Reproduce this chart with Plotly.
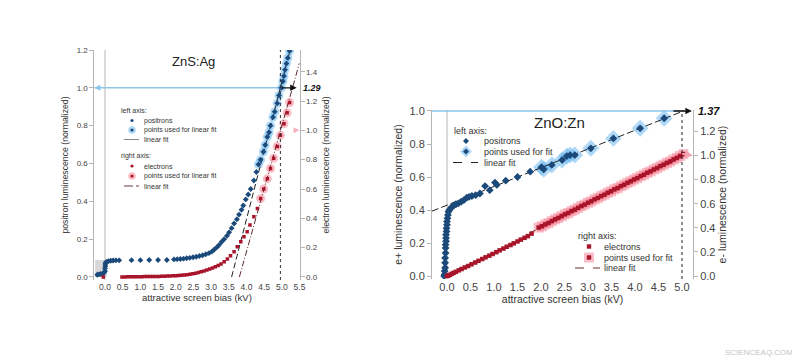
import plotly.graph_objects as go

# browser page has an 8px body margin: the figure is shrunk and positions are compensated
OFF = 8
W, H = 800 - OFF, 361 - OFF
FONT = "Liberation Sans"

# ---------------- ZnS:Ag panel (left) ----------------
zns_pos_x = [-0.22, -0.17, -0.12, -0.07, -0.03, 0.00, 0.00, 0.01, 0.01, 0.02, 0.05, 0.10, 0.16, 0.23, 0.31, 0.40,
             0.75, 1.00, 1.25, 1.50, 1.75,
             1.95, 2.04, 2.13, 2.22, 2.31, 2.40, 2.49, 2.58, 2.67, 2.76, 2.85, 2.94, 3.02, 3.09, 3.17, 3.23,
             3.30, 3.37, 3.45, 3.51, 3.58, 3.65, 3.73, 3.79, 3.86, 3.91, 3.98, 4.05, 4.12, 4.21, 4.28, 4.34,
             4.40, 4.48, 4.53, 4.59, 4.64, 4.68, 4.75, 4.80, 4.87, 4.92, 4.99, 5.03, 5.06, 5.09, 5.13, 5.17, 5.22]
zns_pos_y = [0.012, 0.014, 0.016, 0.018, 0.022, 0.030, 0.045, 0.057, 0.068, 0.076, 0.081, 0.084, 0.086, 0.087, 0.088, 0.088,
             0.089, 0.089, 0.090, 0.090, 0.090,
             0.093, 0.094, 0.095, 0.097, 0.099, 0.101, 0.104, 0.107, 0.111, 0.115, 0.120, 0.126, 0.134, 0.145, 0.158, 0.170,
             0.186, 0.200, 0.218, 0.236, 0.258, 0.283, 0.305, 0.330, 0.355, 0.378, 0.410, 0.436, 0.465, 0.510, 0.555, 0.595,
             0.620, 0.662, 0.698, 0.740, 0.765, 0.800, 0.845, 0.874, 0.918, 0.960, 1.000, 1.035, 1.062, 1.095, 1.128, 1.158, 1.195]
zns_pos_fit_min = 4.30

zns_ele_x = [-0.05,
             0.48, 0.56, 0.64, 0.72, 0.80, 0.88, 0.96, 1.04, 1.12, 1.20, 1.28, 1.36, 1.44, 1.52, 1.60, 1.68, 1.76, 1.84,
             1.92, 2.00, 2.08, 2.16, 2.24, 2.32, 2.40, 2.48, 2.56, 2.64, 2.72, 2.80, 2.88, 2.96, 3.04, 3.12, 3.20, 3.28,
             3.37, 3.46, 3.55, 3.65, 3.74, 3.84, 3.93, 4.02, 4.10, 4.21, 4.31, 4.40, 4.49, 4.59, 4.68, 4.77, 4.87, 4.96,
             5.06, 5.15, 5.22]
zns_ele_y = [0.0,
             0.000, 0.000, 0.001, 0.001, 0.001, 0.002, 0.002, 0.002, 0.003, 0.003, 0.003, 0.004, 0.004, 0.004, 0.005, 0.005, 0.006, 0.007,
             0.008, 0.009, 0.010, 0.012, 0.014, 0.016, 0.019, 0.022, 0.026, 0.030, 0.035, 0.041, 0.048, 0.055, 0.062, 0.070, 0.078, 0.088,
             0.104, 0.122, 0.145, 0.172, 0.206, 0.240, 0.274, 0.308, 0.354, 0.410, 0.467, 0.535, 0.600, 0.670, 0.740, 0.810, 0.890, 0.966,
             1.045, 1.120, 1.190]
zns_ele_fit_min = 4.40

zns_pos_line_x = [3.58, 5.235]
zns_pos_line_y = [0.0, 1.2]
zns_ele_line_x = [3.80, 5.50]
zns_ele_line_y = [0.0, 1.46]
zns_mark_x = 4.96
zns_label = "1.29"

# ---------------- ZnO:Zn panel (right) ----------------
zno_pos_x = [-0.06, -0.05, -0.05, -0.04, -0.04, -0.04, -0.03, -0.03, -0.03, -0.02, -0.02, -0.02, -0.01, -0.01, 0.00,
             0.00, 0.01, 0.02, 0.03, 0.05,
             0.08, 0.11, 0.15, 0.19, 0.24, 0.30, 0.36, 0.42, 0.47, 0.53, 0.61, 0.70,
             0.81, 0.91, 1.02, 1.06, 1.25, 1.50, 1.77,
             2.01, 2.06, 2.23, 2.45, 2.55, 2.62, 2.72, 3.06, 3.54, 4.11, 4.62]
zno_pos_y = [0.00, 0.01, 0.03, 0.05, 0.08, 0.11, 0.14, 0.17, 0.19, 0.21, 0.23, 0.25, 0.27, 0.29, 0.31,
             0.33, 0.35, 0.37, 0.39, 0.40,
             0.41, 0.42, 0.43, 0.435, 0.44, 0.45, 0.46, 0.475, 0.48, 0.485, 0.49, 0.50,
             0.545, 0.52, 0.566, 0.552, 0.578, 0.60, 0.632,
             0.659, 0.647, 0.673, 0.703, 0.727, 0.733, 0.733, 0.774, 0.834, 0.895, 0.956]
zno_pos_fit_min = 1.95

zno_ele_x = [0.00, 0.03, 0.06, 0.10, 0.14, 0.19, 0.25, 0.31, 0.38, 0.45, 0.52, 0.60, 0.67, 0.75, 0.82, 0.90, 0.97,
             1.05, 1.12, 1.20, 1.27, 1.35, 1.42, 1.50, 1.57, 1.65, 1.72, 1.80,
             1.95, 2.02, 2.09, 2.16, 2.23, 2.30, 2.37, 2.44, 2.51, 2.58, 2.65, 2.72, 2.79, 2.86, 2.93, 3.00, 3.07,
             3.14, 3.21, 3.28, 3.35, 3.42, 3.49, 3.56, 3.63, 3.70, 3.77, 3.84, 3.91, 3.98, 4.05, 4.12, 4.19, 4.26,
             4.33, 4.40, 4.47, 4.54, 4.61, 4.68, 4.75, 4.82, 4.89, 4.96, 5.03]
zno_ele_y = [0.000, 0.004, 0.010, 0.018, 0.026, 0.035, 0.047, 0.058, 0.071, 0.083, 0.097, 0.112, 0.126, 0.141, 0.155, 0.169, 0.183,
             0.198, 0.213, 0.228, 0.243, 0.257, 0.271, 0.287, 0.302, 0.317, 0.331, 0.352,
             0.402, 0.413, 0.428, 0.440, 0.456, 0.470, 0.482, 0.497, 0.512, 0.523, 0.539, 0.551, 0.566, 0.581, 0.593, 0.608, 0.620,
             0.636, 0.648, 0.663, 0.675, 0.691, 0.703, 0.719, 0.730, 0.746, 0.758, 0.774, 0.786, 0.801, 0.813, 0.829, 0.841, 0.857,
             0.868, 0.884, 0.896, 0.912, 0.924, 0.939, 0.951, 0.967, 0.980, 0.996, 1.012]
zno_ele_fit_min = 1.90

zno_pos_line_x = [-0.32, 5.03]
zno_pos_line_y = [0.393, 1.0]
zno_ele_line_x = [1.75, 5.05]
zno_ele_line_y = [0.355, 1.02]
zno_mark_x = 5.0
zno_label = "1.37"

BLUE = "#1b4a7a"
BLUE_HALO = "rgba(110,185,240,0.55)"
RED = "#a8142a"
RED_HALO = "rgba(245,125,145,0.5)"
HLINE_BLUE = "#8ec5ea"
SPINE = "#b5b5b5"
TXT = "#333333"


def PX(p):
    return (p - OFF) / W


def PY(p):
    return 1 - (p - OFF) / H


def split(xs, ys, xmin):
    fx = [a for a, b in zip(xs, ys) if a >= xmin]
    fy = [b for a, b in zip(xs, ys) if a >= xmin]
    return fx, fy


fig = go.Figure()

# ---- ZnS traces ----
fx, fy = split(zns_pos_x, zns_pos_y, zns_pos_fit_min)
fig.add_trace(go.Scatter(x=fx, y=fy, mode="markers", name="positron points used for linear fit",
                         marker=dict(symbol="circle", size=9, color=BLUE_HALO), xaxis="x", yaxis="y",
                         showlegend=False, hoverinfo="skip"))
fx, fy = split(zns_ele_x, zns_ele_y, zns_ele_fit_min)
fig.add_trace(go.Scatter(x=fx, y=fy, mode="markers", name="electron points used for linear fit",
                         marker=dict(symbol="circle", size=9, color=RED_HALO), xaxis="x", yaxis="y2",
                         showlegend=False, hoverinfo="skip"))
fig.add_trace(go.Scatter(x=zns_pos_line_x, y=zns_pos_line_y, mode="lines", name="positron linear fit",
                         line=dict(color="#222222", width=1, dash="6px,3px"), xaxis="x", yaxis="y", showlegend=False))
fig.add_trace(go.Scatter(x=zns_ele_line_x, y=zns_ele_line_y, mode="lines", name="electron linear fit",
                         line=dict(color="#5a2a2a", width=1, dash="6px,2px,1px,2px"), xaxis="x", yaxis="y2",
                         showlegend=False))
fig.add_trace(go.Scatter(x=zns_pos_x, y=zns_pos_y, mode="markers", name="positrons",
                         marker=dict(symbol="diamond", size=4.5, color=BLUE), xaxis="x", yaxis="y", showlegend=False))
fig.add_trace(go.Scatter(x=zns_ele_x, y=zns_ele_y, mode="markers", name="electrons",
                         marker=dict(symbol="square", size=3.5, color=RED), xaxis="x", yaxis="y2", showlegend=False))

# ---- ZnO traces ----
fx, fy = split(zno_pos_x, zno_pos_y, zno_pos_fit_min)
fig.add_trace(go.Scatter(x=fx, y=fy, mode="markers", name="positron points used for fit",
                         marker=dict(symbol="diamond", size=13, color=BLUE_HALO), xaxis="x2", yaxis="y3",
                         showlegend=False, hoverinfo="skip"))
fx, fy = split(zno_ele_x, zno_ele_y, zno_ele_fit_min)
fig.add_trace(go.Scatter(x=fx, y=fy, mode="markers", name="electron points used for fit",
                         marker=dict(symbol="square", size=10, color=RED_HALO), xaxis="x2", yaxis="y4",
                         showlegend=False, hoverinfo="skip"))
fig.add_trace(go.Scatter(x=zno_pos_line_x, y=zno_pos_line_y, mode="lines", name="positron linear fit",
                         line=dict(color="#222222", width=1, dash="7px,3px"), xaxis="x2", yaxis="y3", showlegend=False))
fig.add_trace(go.Scatter(x=zno_ele_line_x, y=zno_ele_line_y, mode="lines", name="electron linear fit",
                         line=dict(color="#6a2a2a", width=1, dash="7px,3px"), xaxis="x2", yaxis="y4", showlegend=False))
fig.add_trace(go.Scatter(x=zno_pos_x, y=zno_pos_y, mode="markers", name="positrons",
                         marker=dict(symbol="diamond", size=6, color=BLUE), xaxis="x2", yaxis="y3", showlegend=False))
fig.add_trace(go.Scatter(x=zno_ele_x, y=zno_ele_y, mode="markers", name="electrons",
                         marker=dict(symbol="square", size=4.5, color=RED), xaxis="x2", yaxis="y4", showlegend=False))

shapes = []
ann = []

# ---- decorations in data coordinates ----
# ZnS
shapes.append(dict(type="rect", xref="x", yref="y", x0=-0.28, x1=0.05, y0=0, y1=0.09,
                   fillcolor="rgba(190,190,190,0.6)", line=dict(width=0), layer="below"))
shapes.append(dict(type="line", xref="x", yref="y domain", x0=0, x1=0, y0=0, y1=1,
                   line=dict(color="#cfcfcf", width=1.5), layer="below"))
shapes.append(dict(type="line", xref="x", yref="y", x0=-0.3, x1=zns_mark_x, y0=1.0, y1=1.0,
                   line=dict(color=HLINE_BLUE, width=1.5), layer="below"))
shapes.append(dict(type="line", xref="x", yref="y domain", x0=zns_mark_x, x1=zns_mark_x, y0=0, y1=1,
                   line=dict(color="#333333", width=1, dash="dot")))
# ZnO
shapes.append(dict(type="line", xref="x2", yref="y3 domain", x0=0, x1=0, y0=0, y1=1,
                   line=dict(color="#cfcfcf", width=1.5), layer="below"))
shapes.append(dict(type="line", xref="x2", yref="y3", x0=-0.32, x1=5.03, y0=1.0, y1=1.0,
                   line=dict(color=HLINE_BLUE, width=1.5), layer="below"))
shapes.append(dict(type="line", xref="x2", yref="y3", x0=zno_mark_x, x1=zno_mark_x, y0=-0.018, y1=1.0,
                   line=dict(color="#222222", width=1, dash="dot")))

# arrows + labels
ann.append(dict(xref="x", yref="y", x=5.42, y=1.0, ax=-16, ay=0, text="", showarrow=True,
                arrowhead=2, arrowsize=1, arrowwidth=1.3, arrowcolor="#111111"))
ann.append(dict(xref="x", yref="y", x=5.5, y=1.0, text="<b><i>" + zns_label + "</i></b>", showarrow=False,
                xanchor="left", yanchor="middle", xshift=1, font=dict(family=FONT, size=9, color="#111111")))
ann.append(dict(xref="x2", yref="y3", x=5.21, y=1.0, ax=-20, ay=0, text="", showarrow=True,
                arrowhead=2, arrowsize=1, arrowwidth=1.3, arrowcolor="#111111"))
ann.append(dict(xref="x2", yref="y3", x=5.23, y=1.0, text="<b><i>" + zno_label + "</i></b>", showarrow=False,
                xanchor="left", yanchor="middle", xshift=3, font=dict(family=FONT, size=11, color="#111111")))
# small coloured arrows on the axes
ann.append(dict(xref="x", yref="y", x=-0.3, y=1.0, ax=7, ay=0, text="", showarrow=True,
                arrowhead=2, arrowsize=0.8, arrowwidth=1.5, arrowcolor=HLINE_BLUE))
ann.append(dict(xref="x", yref="y2", x=5.5, y=1.0, ax=-7, ay=0, text="", showarrow=True,
                arrowhead=2, arrowsize=0.8, arrowwidth=1.5, arrowcolor="#f4b3bd"))
ann.append(dict(xref="x2", yref="y3", x=-0.32, y=1.0, ax=8, ay=0, text="", showarrow=True,
                arrowhead=2, arrowsize=0.8, arrowwidth=1.5, arrowcolor=HLINE_BLUE))
ann.append(dict(xref="x2", yref="y4", x=5.23, y=1.0, ax=-12, ay=-2, text="", showarrow=True,
                arrowhead=2, arrowsize=0.8, arrowwidth=2, arrowcolor="#f4a3b0"))

# panel titles
ann.append(dict(xref="paper", yref="paper", x=PX(193), y=PY(61.5), text="ZnS:Ag", showarrow=False,
                xanchor="center", yanchor="middle", font=dict(family=FONT, size=13, color="#222222")))
ann.append(dict(xref="paper", yref="paper", x=PX(559), y=PY(122.5), text="ZnO:Zn", showarrow=False,
                xanchor="center", yanchor="middle", font=dict(family=FONT, size=15, color="#222222")))

# watermark
ann.append(dict(xref="paper", yref="paper", x=PX(795), y=PY(352), text="SCIENCEAQ.COM", showarrow=False,
                xanchor="right", yanchor="middle", font=dict(family=FONT, size=8, color="#c4c4c4")))


# ---- hand-made legends (paper coordinates) ----
def leg_text(x, y, s, size, anchor="left"):
    ann.append(dict(xref="paper", yref="paper", x=PX(x), y=PY(y), text=s, showarrow=False,
                    xanchor=anchor, yanchor="middle", font=dict(family=FONT, size=size, color=TXT)))


def leg_circle(cx, cy, r, color):
    shapes.append(dict(type="circle", xref="paper", yref="paper", x0=PX(cx - r), x1=PX(cx + r),
                       y0=PY(cy + r), y1=PY(cy - r), fillcolor=color, line=dict(width=0)))


def leg_square(cx, cy, r, color):
    shapes.append(dict(type="rect", xref="paper", yref="paper", x0=PX(cx - r), x1=PX(cx + r),
                       y0=PY(cy + r), y1=PY(cy - r), fillcolor=color, line=dict(width=0)))


def leg_diamond(cx, cy, r, color):
    path = "M {} {} L {} {} L {} {} L {} {} Z".format(PX(cx), PY(cy - r), PX(cx + r), PY(cy), PX(cx), PY(cy + r),
                                                      PX(cx - r), PY(cy))
    shapes.append(dict(type="path", xref="paper", yref="paper", path=path, fillcolor=color, line=dict(width=0)))


def leg_line(x0, x1, y, color, dash):
    shapes.append(dict(type="line", xref="paper", yref="paper", x0=PX(x0), x1=PX(x1), y0=PY(y), y1=PY(y),
                       line=dict(color=color, width=1, dash=dash)))


# ZnS legend
LS = 7
leg_text(119, 111, "left axis:", LS)
leg_circle(132, 120.5, 1.6, BLUE)
leg_text(142, 120.5, "positrons", LS)
leg_circle(132, 130, 3.8, BLUE_HALO)
leg_circle(132, 130, 1.6, BLUE)
leg_text(142, 130, "points used for linear fit", LS)
leg_line(124, 139, 139.5, "#888888", "solid")
leg_text(142, 139.5, "linear fit", LS)
leg_text(119, 156, "right axis:", LS)
leg_circle(132, 166, 1.6, RED)
leg_text(142, 166, "electrons", LS)
leg_circle(132, 176, 3.8, RED_HALO)
leg_circle(132, 176, 1.6, RED)
leg_text(142, 176, "points used for linear fit", LS)
leg_line(124, 139, 186, "#6a3a3a", "dashdot")
leg_text(142, 186, "linear fit", LS)

# ZnO legends
LR = 9
leg_text(452, 131, "left axis:", LR)
leg_diamond(466, 141, 3, BLUE)
leg_text(482, 141, "positrons", LR)
leg_diamond(466, 151.5, 6, BLUE_HALO)
leg_diamond(466, 151.5, 3, BLUE)
leg_text(482, 151.5, "points used for fit", LR)
leg_line(453, 478, 162.5, "#222222", "dash")
leg_text(482, 162.5, "linear fit", LR)

leg_text(576, 236, "right axis:", LR)
leg_square(589, 246.5, 2.2, RED)
leg_text(602, 246.5, "electrons", LR)
leg_square(589, 257.5, 5, RED_HALO)
leg_square(589, 257.5, 2.2, RED)
leg_text(602, 257.5, "points used for fit", LR)
leg_line(575, 600, 268, "#6a2a2a", "dash")
leg_text(602, 268, "linear fit", LR)

# ---- axes ----
def yax(**kw):
    d = dict(showgrid=False, zeroline=False, showline=True, linecolor=SPINE, linewidth=1, automargin=False,
             ticks="outside", ticklen=4, tickcolor=SPINE, tickformat=".1f")
    d.update(kw)
    return d


def xax(**kw):
    d = dict(showgrid=False, zeroline=False, showline=False, ticks="", tickformat=".1f", automargin=False)
    d.update(kw)
    return d


fig.update_layout(
    width=W, height=H,
    margin=dict(l=0, r=0, t=0, b=0),
    paper_bgcolor="white", plot_bgcolor="white",
    showlegend=False,
    font=dict(family=FONT, color=TXT),
    xaxis=xax(domain=[PX(94.4), PX(299.5)], anchor="y", range=[-0.3, 5.5], tick0=0, dtick=0.5,
              tickfont=dict(size=8.5, color="#444444"),
              title=dict(text="attractive screen bias (kV)", font=dict(size=9.5, color=TXT), standoff=3)),
    yaxis=yax(domain=[PY(280), PY(50)], anchor="x", range=[-0.016, 1.2], tick0=0, dtick=0.2,
              tickfont=dict(size=8, color="#444444"),
              title=dict(text="positron luminescence (normalized)", font=dict(size=8.7, color=TXT), standoff=6)),
    yaxis2=yax(overlaying="y", side="right", anchor="x", range=[-0.0206, 1.548], tick0=0, dtick=0.2,
               tickfont=dict(size=8, color="#444444"),
               title=dict(text="electron luminescence (normalized)", font=dict(size=8.7, color=TXT), standoff=6)),
    xaxis2=xax(domain=[PX(432), PX(693)], anchor="y3", range=[-0.319, 5.234], tick0=0, dtick=0.5,
               tickfont=dict(size=11, color="#444444"),
               title=dict(text="attractive screen bias (kV)", font=dict(size=10.5, color=TXT), standoff=3)),
    yaxis3=yax(domain=[PY(279), PY(110)], anchor="x2", range=[-0.018, 1.006], tick0=0, dtick=0.2,
               tickfont=dict(size=11, color="#444444"),
               title=dict(text="e+ luminescence (normalized)", font=dict(size=10.5, color=TXT), standoff=4)),
    yaxis4=yax(overlaying="y3", side="right", anchor="x2", range=[-0.0247, 1.378], tick0=0, dtick=0.2,
               tickfont=dict(size=11, color="#444444"),
               title=dict(text="e- luminescence (normalized)", font=dict(size=10.5, color=TXT), standoff=4)),
    shapes=shapes,
    annotations=ann,
)

fig.write_html("out.html")
